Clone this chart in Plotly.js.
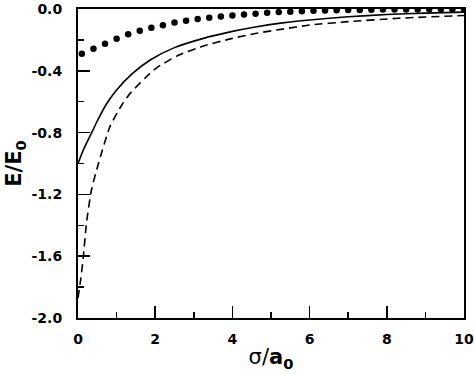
<!DOCTYPE html>
<html>
<head>
<meta charset="utf-8">
<script src="https://cdn.plot.ly/plotly-3.0.1.min.js"></script>
<style>html,body{margin:0;padding:0;background:#fff}#chart{width:474px;height:374px}</style>
</head>
<body>
<div id="chart"></div>
<script>
// Dotted series
var dotX = [0.1, 0.4, 0.7, 1.0, 1.3, 1.6, 1.9, 2.2, 2.5, 2.8, 3.1, 3.4, 3.7, 4.0, 4.3, 4.6, 4.9, 5.2, 5.5, 5.8, 6.1, 6.4, 6.7, 7.0, 7.3, 7.6, 7.9, 8.2, 8.5, 8.8, 9.1, 9.4, 9.7, 10.0];
var dotY = [-0.29, -0.257, -0.225, -0.192, -0.164, -0.140, -0.121, -0.105, -0.088, -0.076, -0.065, -0.056, -0.049, -0.042, -0.036, -0.031, -0.025, -0.020, -0.017, -0.014, -0.012, -0.010, -0.008, -0.007, -0.006, -0.005, -0.004, -0.004, -0.003, -0.003, -0.002, -0.002, -0.002, -0.002];
// Solid series
var solidX = [0, 0.15, 0.355, 0.5, 0.725, 1.0, 1.4, 1.87, 2.5, 3.25, 4.0, 4.63, 5.3, 6.0, 7.0, 8.0, 9.0, 10.0];
var solidY = [-1.0, -0.905, -0.8, -0.725, -0.62, -0.524, -0.42, -0.33, -0.25, -0.19, -0.145, -0.115, -0.09, -0.071, -0.05, -0.036, -0.027, -0.02];
// Dashed series
var dashX = [0, 0.07, 0.14, 0.22, 0.35, 0.53, 0.83, 1.15, 1.35, 1.87, 2.08, 2.6, 3.25, 4.0, 4.63, 5.3, 6.0, 7.0, 8.3, 10.0];
var dashY = [-1.87, -1.75, -1.60, -1.385, -1.17, -1.0, -0.76, -0.615, -0.546, -0.415, -0.373, -0.3, -0.24, -0.19, -0.157, -0.13, -0.104, -0.082, -0.06, -0.042];
// Tick labels
var xTickVals = [0, 2, 4, 6, 8, 10];
var xTickText = ["0", "2", "4", "6", "8", "10"];
var yTickVals = [0, -0.4, -0.8, -1.2, -1.6, -2.0];
var yTickText = ["0.0", "-0.4", "-0.8", "-1.2", "-1.6", "-2.0"];

var traces = [
  {x: dotX, y: dotY, mode: 'markers', type: 'scatter', marker: {color: '#000', size: 6.5}, cliponaxis: true},
  {x: solidX, y: solidY, mode: 'lines', type: 'scatter', line: {color: '#000', width: 1.6, shape: 'spline', smoothing: 0.6}},
  {x: dashX, y: dashY, mode: 'lines', type: 'scatter', line: {color: '#000', width: 1.6, dash: '8px,5px', shape: 'spline', smoothing: 0.6}}
];

var fam = 'DejaVu Sans, Verdana, sans-serif';
var tickFont = {family: fam, size: 14, color: '#000', weight: 'bold'};
var layout = {
  width: 474, height: 374,
  margin: {l: 78, r: 10, t: 9, b: 56},
  showlegend: false,
  paper_bgcolor: '#fff', plot_bgcolor: '#fff',
  font: {family: fam, color: '#000'},
  xaxis: {
    range: [0, 10], showgrid: false, zeroline: false,
    showline: true, linecolor: '#000', linewidth: 2, mirror: true,
    ticks: 'inside', ticklen: 12, tickwidth: 1.5, tickcolor: '#000',
    tickvals: xTickVals, ticktext: xTickText, tickfont: tickFont,
    ticklabelstandoff: 7,
    minor: {ticks: 'inside', ticklen: 6, tickwidth: 1.5, tickcolor: '#000', dtick: 1, showgrid: false},
    title: {text: 'σ/<b>a<sub>0</sub></b>', font: {family: fam, size: 21, color: '#000'}, standoff: 4}
  },
  yaxis: {
    range: [-2.0, 0], showgrid: false, zeroline: false,
    showline: true, linecolor: '#000', linewidth: 2, mirror: true,
    ticks: 'inside', ticklen: 12, tickwidth: 1.5, tickcolor: '#000',
    tickvals: yTickVals, ticktext: yTickText, tickfont: tickFont,
    ticklabelstandoff: 11,
    minor: {ticks: 'inside', ticklen: 6, tickwidth: 1.5, tickcolor: '#000', dtick: 0.2, showgrid: false},
    title: {text: '<b>E/E<sub>0</sub></b>', font: {family: fam, size: 21, color: '#000'}, standoff: 4}
  }
};
Plotly.newPlot('chart', traces, layout, {displayModeBar: false, staticPlot: true});
</script>
</body>
</html>
